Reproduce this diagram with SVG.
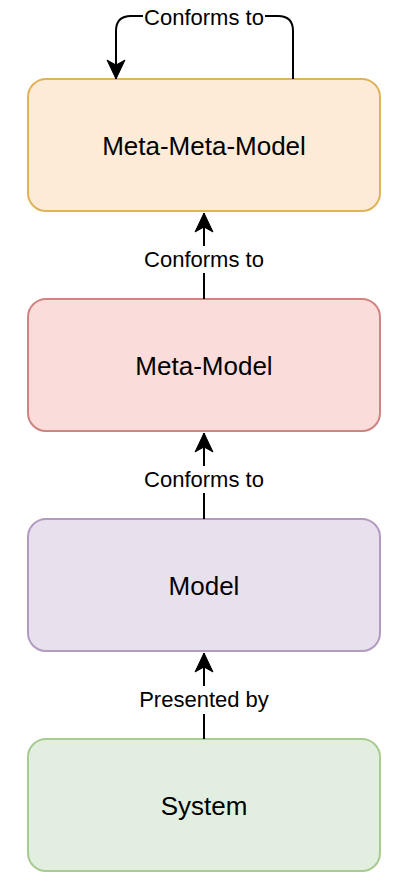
<svg xmlns="http://www.w3.org/2000/svg" width="408" height="890" viewBox="0 0 408 890">
<style>
.box{stroke-width:2}
.node-text{font-family:"Liberation Sans",Arial,sans-serif;font-size:26px;fill:#000;text-anchor:middle}
.lbl{font-family:"Liberation Sans",Arial,sans-serif;font-size:22px;fill:#000;text-anchor:middle}
.edge{fill:none;stroke:#000;stroke-width:2}
.lblbg{fill:#fff}
</style>
<defs>
<marker id="arr" markerUnits="userSpaceOnUse" markerWidth="22" markerHeight="22" viewBox="-21 -11 22 22" refX="0" refY="0" orient="auto">
<path d="M0,0 L-19,-9 L-14,0 L-19,9 Z" fill="#000" stroke="#000" stroke-width="1"/>
</marker>
</defs>
<rect width="408" height="890" fill="#fff"/>
<g id="meta-meta-model">
<rect class="box" x="28" y="79" width="352" height="132" rx="18" fill="#fdebd8" stroke="#deb35a"/>
<text class="node-text" x="204" y="155">Meta-Meta-Model</text>
</g>
<g id="meta-model">
<rect class="box" x="28" y="299" width="352" height="132" rx="18" fill="#fadcdb" stroke="#cf8480"/>
<text class="node-text" x="204" y="375">Meta-Model</text>
</g>
<g id="model">
<rect class="box" x="28" y="519" width="352" height="132" rx="18" fill="#e9e0ee" stroke="#b29bc0"/>
<text class="node-text" x="204" y="595">Model</text>
</g>
<g id="system">
<rect class="box" x="28" y="739" width="352" height="132" rx="18" fill="#e2eedf" stroke="#a8cc90"/>
<text class="node-text" x="204" y="815">System</text>
</g>
<g id="connectors">
<path class="edge" d="M293,79 V31 Q293,16 278,16 H131 Q116,16 116,31 V79" marker-end="url(#arr)"/>
<rect class="lblbg" x="143" y="4" width="122" height="25"/>
<text class="lbl" x="204" y="25">Conforms to</text>
<path class="edge" d="M204,299 V213" marker-end="url(#arr)"/>
<rect class="lblbg" x="143" y="246" width="122" height="27"/>
<text class="lbl" x="204" y="267">Conforms to</text>
<path class="edge" d="M204,519 V433" marker-end="url(#arr)"/>
<rect class="lblbg" x="143" y="466" width="122" height="27"/>
<text class="lbl" x="204" y="487">Conforms to</text>
<path class="edge" d="M204,739 V653" marker-end="url(#arr)"/>
<rect class="lblbg" x="139" y="686" width="130" height="28"/>
<text class="lbl" x="204" y="707">Presented by</text>
</g>
</svg>
